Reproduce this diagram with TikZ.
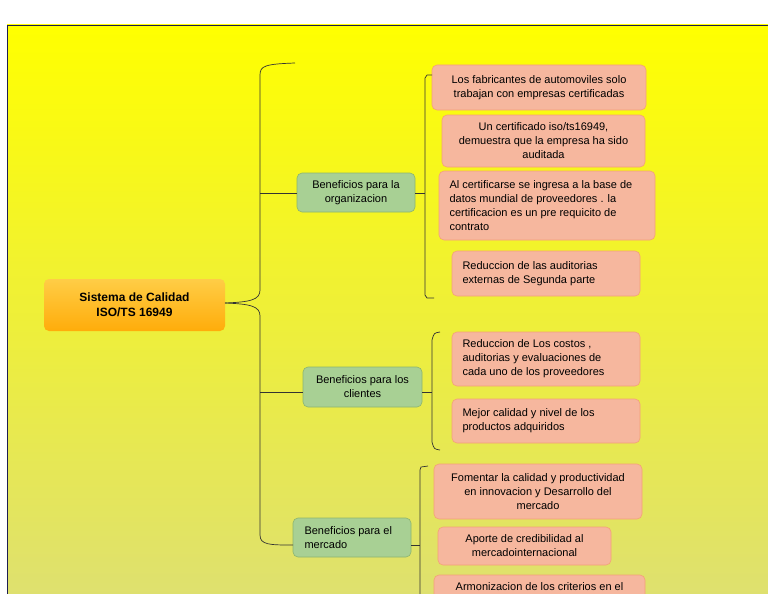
\documentclass[tikz,border=0pt]{standalone}
\usepackage{fontspec}
\setmainfont{Liberation Sans}
\definecolor{bgtop}{RGB}{255,255,0}
\definecolor{bgbot}{RGB}{222,224,112}
\definecolor{frame}{RGB}{30,30,80}
\definecolor{orgtop}{RGB}{255,205,70}
\definecolor{orgbot}{RGB}{255,172,10}
\definecolor{pinkd}{RGB}{245,160,120}
\definecolor{pinkf}{RGB}{246,183,158}
\definecolor{greend}{RGB}{140,180,110}
\definecolor{greenf}{RGB}{168,208,148}
\begin{document}
\begin{tikzpicture}[x=1pt,y=-1pt,
  pink/.style={draw=pinkd, fill=pinkf, rounded corners=5pt, line width=0.6pt},
  green/.style={draw=greend, fill=greenf, rounded corners=5pt, line width=0.6pt},
  txt/.style={font=\fontsize{11}{14}\selectfont},
  br/.style={draw=black!80, line width=0.7pt}]
\useasboundingbox (0,0) rectangle (768,594);
\clip (0,0) rectangle (768,594);
\shade[top color=bgtop, bottom color=bgbot] (7,25) rectangle (772,600);
\draw[frame, line width=0.8pt] (7,600) -- (7,25) -- (772,25);
% main node
\shade[top color=orgtop, bottom color=orgbot, rounded corners=5pt] (44,279) rectangle (225,331);
\node[font=\bfseries\fontsize{12}{15}\selectfont, align=center] (main) at (134.5,305) {Sistema de Calidad\\ISO/TS 16949};
\coordinate (mainR) at (225,303);
% level 2
\path[green] (297,173) rectangle (415,212);
\node[align=center, txt] (org) at (356,192.5) {Beneficios para la\\organizacion};
\path[green] (303,367) rectangle (422,407);
\node[align=center, txt] (cli) at (362.5,387) {Beneficios para los\\clientes};
\path[green] (293,518) rectangle (411,557);
\node[align=left, txt, anchor=west] (mer) at (301,537.5) {Beneficios para el\\mercado};
\coordinate (merL) at (293,545);
% leaves
\path[pink] (432,65) rectangle (646,110);
\node[align=center, txt] (a1) at (539,87.5) {Los fabricantes de automoviles solo\\trabajan con empresas certificadas};
\path[pink] (442,115) rectangle (645,167);
\node[align=center, txt] (a2) at (543.5,141) {Un certificado iso/ts16949,\\demuestra que la empresa ha sido\\auditada};
\path[pink] (439,171) rectangle (655,240);
\node[align=left, txt, anchor=west] (a3) at (446,205.5) {Al certificarse se ingresa a la base de\\datos mundial de proveedores . la\\certificacion es un pre requicito de\\contrato};
\path[pink] (452,251) rectangle (640,296);
\node[align=left, txt, anchor=west] (a4) at (459,273.5) {Reduccion de las auditorias\\externas de Segunda parte};
\path[pink] (452,332) rectangle (640,386);
\node[align=left, txt, anchor=west] (b1) at (459,359) {Reduccion de Los costos ,\\auditorias y evaluaciones de\\cada uno de los proveedores};
\path[pink] (452,399) rectangle (640,443);
\node[align=left, txt, anchor=west] (b2) at (459,421) {Mejor calidad y nivel de los\\productos adquiridos};
\path[pink] (434,464) rectangle (642,519);
\node[align=center, txt] (c1) at (538,491.5) {Fomentar la calidad y productividad\\en innovacion y Desarrollo del\\mercado};
\path[pink] (438,527) rectangle (611,565);
\node[align=center, txt] (c2) at (524.5,546) {Aporte de credibilidad al\\mercadointernacional};
\path[pink] (434,575) rectangle (645,620);
\node[align=center, txt, anchor=north] (c3) at (539.5,579) {Armonizacion de los criterios en el};
% main bracket
\draw[br] (295,63) .. controls (265,64) and (260,66) .. (260,75) -- (260,290) .. controls (260,300) and (250,302) .. (mainR);
\draw[br] (mainR) .. controls (250,304) and (260,306) .. (260,316) -- (260,535) .. controls (260,545) and (270,545) .. (merL);
\draw[br] (260,193) -- (297,193);
\draw[br] (260,392) -- (303,392);
% org bracket
\draw[br] (415,193) -- (425,193);
\draw[br] (432,75) -- (427,75) -- (425,78) -- (425,295) -- (427,298) -- (434,298);
% cli bracket
\draw[br] (422,392) -- (432,392);
\draw[br] (440,332) .. controls (434,333) .. (432,340) -- (432,442) .. controls (434,449) .. (440,450);
% mer bracket
\draw[br] (411,545) -- (420,545);
\draw[br] (428,466) -- (421,467) -- (420,470) -- (420,600);
\end{tikzpicture}
\end{document}
